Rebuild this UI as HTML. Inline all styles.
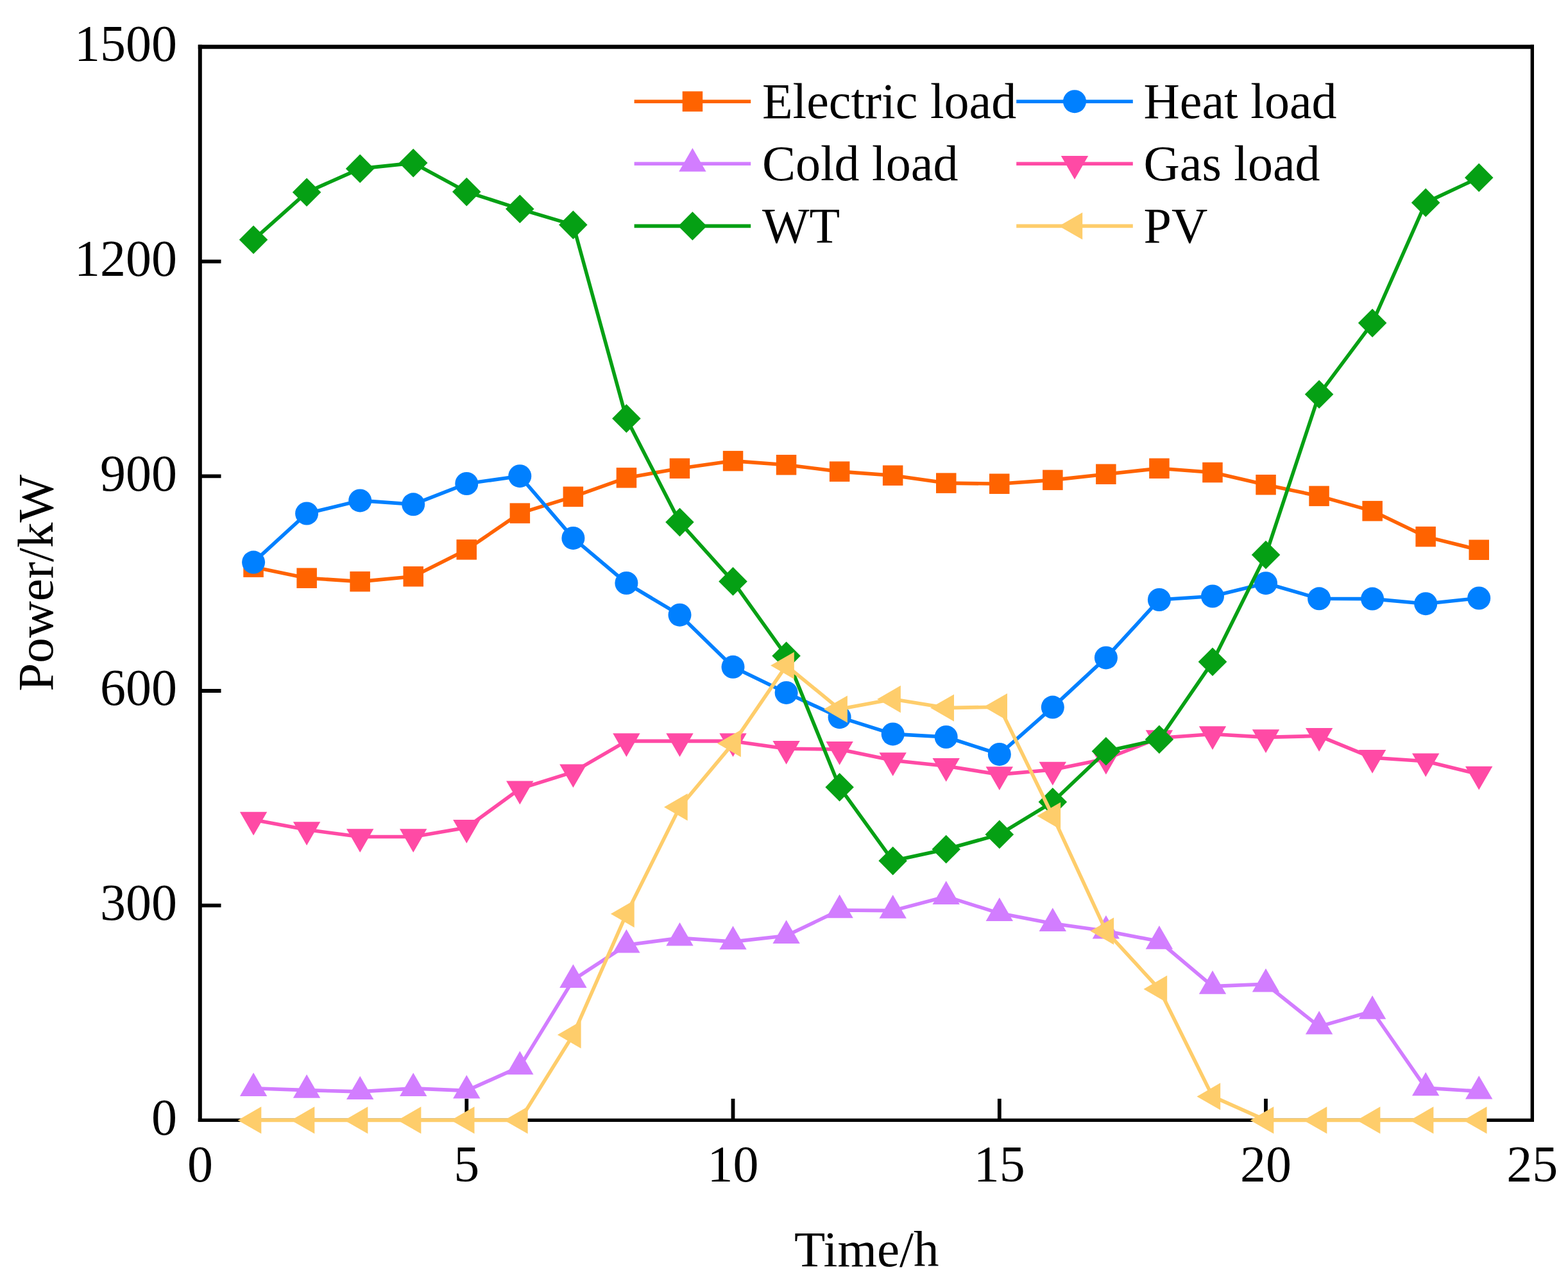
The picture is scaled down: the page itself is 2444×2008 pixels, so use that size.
<!DOCTYPE html>
<html><head><meta charset="utf-8"><title>Power profile</title>
<style>html,body{margin:0;padding:0;background:#fff;}svg{display:block;}</style>
</head><body><svg width="2444" height="2008" viewBox="0 0 2444 2008"><rect width="2444" height="2008" fill="#fff"/><path d="M308.8 69.8H2391 V76.2 H308.8Z" fill="#000"/><path d="M308.8 69.8H314.8 V1749.1000000000001 H308.8Z" fill="#000"/><path d="M308.8 1743.7H2391 V1749.1000000000001 H308.8Z" fill="#000"/><path d="M2385.6 69.8H2391 V1749.1000000000001 H2385.6Z" fill="#000"/><line x1="727.3" y1="1746.4" x2="727.3" y2="1712.9" stroke="#000" stroke-width="5.8"/><line x1="1142.5" y1="1746.4" x2="1142.5" y2="1712.9" stroke="#000" stroke-width="5.8"/><line x1="1557.8" y1="1746.4" x2="1557.8" y2="1712.9" stroke="#000" stroke-width="5.8"/><line x1="1973.0" y1="1746.4" x2="1973.0" y2="1712.9" stroke="#000" stroke-width="5.8"/><line x1="312.0" y1="1411.7" x2="344.5" y2="1411.7" stroke="#000" stroke-width="5.8"/><line x1="312.0" y1="1077.0" x2="344.5" y2="1077.0" stroke="#000" stroke-width="5.8"/><line x1="312.0" y1="742.4" x2="344.5" y2="742.4" stroke="#000" stroke-width="5.8"/><line x1="312.0" y1="407.7" x2="344.5" y2="407.7" stroke="#000" stroke-width="5.8"/><g font-family="'Liberation Serif', 'Times New Roman', serif" font-size="80" fill="#000"><text x="276" y="1768.6" text-anchor="end">0</text><text x="276" y="1433.9" text-anchor="end">300</text><text x="276" y="1099.2" text-anchor="end">600</text><text x="276" y="764.6" text-anchor="end">900</text><text x="276" y="429.9" text-anchor="end">1200</text><text x="276" y="95.2" text-anchor="end">1500</text><text x="312.0" y="1842" text-anchor="middle">0</text><text x="727.3" y="1842" text-anchor="middle">5</text><text x="1142.5" y="1842" text-anchor="middle">10</text><text x="1557.8" y="1842" text-anchor="middle">15</text><text x="1973.0" y="1842" text-anchor="middle">20</text><text x="2388.3" y="1842" text-anchor="middle">25</text></g><text font-family="'Liberation Serif', 'Times New Roman', serif" font-size="79" x="1350.7" y="1973.8" text-anchor="middle">Time/h</text><text font-family="'Liberation Serif', 'Times New Roman', serif" font-size="79" transform="translate(82.3 908.8) rotate(-90)" text-anchor="middle">Power/kW</text><polyline points="395.1,884.1 478.1,901.2 561.2,906.6 644.2,898.8 727.3,856.9 810.3,800.1 893.4,774.4 976.4,744.9 1059.5,730.3 1142.5,718.6 1225.6,724.7 1308.6,735.1 1391.7,741.3 1474.7,753.1 1557.8,754.3 1640.8,748.4 1723.9,739.3 1806.9,730.2 1890.0,736.5 1973.0,755.8 2056.1,773.4 2139.1,796.6 2222.2,836.6 2305.2,857.3" fill="none" stroke="#FF6300" stroke-width="5.6" stroke-linejoin="round" stroke-linecap="butt"/><rect x="379.3" y="868.4" width="31.5" height="31.5" fill="#FF6300"/><rect x="462.4" y="885.5" width="31.5" height="31.5" fill="#FF6300"/><rect x="545.4" y="890.9" width="31.5" height="31.5" fill="#FF6300"/><rect x="628.5" y="883.0" width="31.5" height="31.5" fill="#FF6300"/><rect x="711.5" y="841.1" width="31.5" height="31.5" fill="#FF6300"/><rect x="794.6" y="784.4" width="31.5" height="31.5" fill="#FF6300"/><rect x="877.6" y="758.6" width="31.5" height="31.5" fill="#FF6300"/><rect x="960.7" y="729.1" width="31.5" height="31.5" fill="#FF6300"/><rect x="1043.7" y="714.5" width="31.5" height="31.5" fill="#FF6300"/><rect x="1126.8" y="702.9" width="31.5" height="31.5" fill="#FF6300"/><rect x="1209.8" y="709.0" width="31.5" height="31.5" fill="#FF6300"/><rect x="1292.9" y="719.4" width="31.5" height="31.5" fill="#FF6300"/><rect x="1375.9" y="725.5" width="31.5" height="31.5" fill="#FF6300"/><rect x="1459.0" y="737.4" width="31.5" height="31.5" fill="#FF6300"/><rect x="1542.0" y="738.5" width="31.5" height="31.5" fill="#FF6300"/><rect x="1625.1" y="732.6" width="31.5" height="31.5" fill="#FF6300"/><rect x="1708.1" y="723.5" width="31.5" height="31.5" fill="#FF6300"/><rect x="1791.2" y="714.5" width="31.5" height="31.5" fill="#FF6300"/><rect x="1874.2" y="720.8" width="31.5" height="31.5" fill="#FF6300"/><rect x="1957.3" y="740.0" width="31.5" height="31.5" fill="#FF6300"/><rect x="2040.3" y="757.6" width="31.5" height="31.5" fill="#FF6300"/><rect x="2123.4" y="780.9" width="31.5" height="31.5" fill="#FF6300"/><rect x="2206.4" y="820.9" width="31.5" height="31.5" fill="#FF6300"/><rect x="2289.5" y="841.5" width="31.5" height="31.5" fill="#FF6300"/><polyline points="395.1,876.6 478.1,800.5 561.2,780.4 644.2,786.3 727.3,754.0 810.3,742.2 893.4,838.9 976.4,909.0 1059.5,958.7 1142.5,1039.8 1225.6,1079.9 1308.6,1118.2 1391.7,1144.4 1474.7,1149.0 1557.8,1175.9 1640.8,1102.6 1723.9,1025.4 1806.9,935.0 1890.0,929.5 1973.0,909.2 2056.1,933.3 2139.1,933.6 2222.2,941.2 2305.2,932.5" fill="none" stroke="#0080FF" stroke-width="5.6" stroke-linejoin="round" stroke-linecap="butt"/><circle cx="395.1" cy="876.6" r="18.0" fill="#0080FF"/><circle cx="478.1" cy="800.5" r="18.0" fill="#0080FF"/><circle cx="561.2" cy="780.4" r="18.0" fill="#0080FF"/><circle cx="644.2" cy="786.3" r="18.0" fill="#0080FF"/><circle cx="727.3" cy="754.0" r="18.0" fill="#0080FF"/><circle cx="810.3" cy="742.2" r="18.0" fill="#0080FF"/><circle cx="893.4" cy="838.9" r="18.0" fill="#0080FF"/><circle cx="976.4" cy="909.0" r="18.0" fill="#0080FF"/><circle cx="1059.5" cy="958.7" r="18.0" fill="#0080FF"/><circle cx="1142.5" cy="1039.8" r="18.0" fill="#0080FF"/><circle cx="1225.6" cy="1079.9" r="18.0" fill="#0080FF"/><circle cx="1308.6" cy="1118.2" r="18.0" fill="#0080FF"/><circle cx="1391.7" cy="1144.4" r="18.0" fill="#0080FF"/><circle cx="1474.7" cy="1149.0" r="18.0" fill="#0080FF"/><circle cx="1557.8" cy="1175.9" r="18.0" fill="#0080FF"/><circle cx="1640.8" cy="1102.6" r="18.0" fill="#0080FF"/><circle cx="1723.9" cy="1025.4" r="18.0" fill="#0080FF"/><circle cx="1806.9" cy="935.0" r="18.0" fill="#0080FF"/><circle cx="1890.0" cy="929.5" r="18.0" fill="#0080FF"/><circle cx="1973.0" cy="909.2" r="18.0" fill="#0080FF"/><circle cx="2056.1" cy="933.3" r="18.0" fill="#0080FF"/><circle cx="2139.1" cy="933.6" r="18.0" fill="#0080FF"/><circle cx="2222.2" cy="941.2" r="18.0" fill="#0080FF"/><circle cx="2305.2" cy="932.5" r="18.0" fill="#0080FF"/><polyline points="395.1,1696.8 478.1,1699.6 561.2,1701.9 644.2,1696.9 727.3,1700.4 810.3,1663.1 893.4,1527.7 976.4,1473.3 1059.5,1462.4 1142.5,1468.1 1225.6,1458.8 1308.6,1419.0 1391.7,1419.6 1474.7,1397.7 1557.8,1423.8 1640.8,1439.7 1723.9,1451.4 1806.9,1467.5 1890.0,1537.6 1973.0,1534.3 2056.1,1600.4 2139.1,1576.5 2222.2,1696.1 2305.2,1701.4" fill="none" stroke="#D27DFF" stroke-width="5.6" stroke-linejoin="round" stroke-linecap="butt"/><path d="M395.1 1672.3L416.3 1709.0L373.9 1709.0Z" fill="#D27DFF"/><path d="M478.1 1675.1L499.3 1711.8L456.9 1711.8Z" fill="#D27DFF"/><path d="M561.2 1677.4L582.4 1714.1L540.0 1714.1Z" fill="#D27DFF"/><path d="M644.2 1672.4L665.4 1709.1L623.0 1709.1Z" fill="#D27DFF"/><path d="M727.3 1675.9L748.5 1712.6L706.1 1712.6Z" fill="#D27DFF"/><path d="M810.3 1638.6L831.5 1675.3L789.1 1675.3Z" fill="#D27DFF"/><path d="M893.4 1503.2L914.6 1539.9L872.2 1539.9Z" fill="#D27DFF"/><path d="M976.4 1448.8L997.6 1485.5L955.2 1485.5Z" fill="#D27DFF"/><path d="M1059.5 1437.9L1080.7 1474.6L1038.3 1474.6Z" fill="#D27DFF"/><path d="M1142.5 1443.6L1163.7 1480.3L1121.3 1480.3Z" fill="#D27DFF"/><path d="M1225.6 1434.3L1246.8 1471.0L1204.4 1471.0Z" fill="#D27DFF"/><path d="M1308.6 1394.5L1329.8 1431.2L1287.4 1431.2Z" fill="#D27DFF"/><path d="M1391.7 1395.1L1412.9 1431.8L1370.5 1431.8Z" fill="#D27DFF"/><path d="M1474.7 1373.2L1495.9 1409.9L1453.5 1409.9Z" fill="#D27DFF"/><path d="M1557.8 1399.3L1579.0 1436.0L1536.6 1436.0Z" fill="#D27DFF"/><path d="M1640.8 1415.2L1662.0 1451.9L1619.6 1451.9Z" fill="#D27DFF"/><path d="M1723.9 1426.9L1745.1 1463.6L1702.7 1463.6Z" fill="#D27DFF"/><path d="M1806.9 1443.0L1828.1 1479.7L1785.7 1479.7Z" fill="#D27DFF"/><path d="M1890.0 1513.1L1911.2 1549.8L1868.8 1549.8Z" fill="#D27DFF"/><path d="M1973.0 1509.8L1994.2 1546.5L1951.8 1546.5Z" fill="#D27DFF"/><path d="M2056.1 1575.9L2077.3 1612.6L2034.9 1612.6Z" fill="#D27DFF"/><path d="M2139.1 1552.0L2160.3 1588.7L2117.9 1588.7Z" fill="#D27DFF"/><path d="M2222.2 1671.6L2243.4 1708.3L2201.0 1708.3Z" fill="#D27DFF"/><path d="M2305.2 1676.9L2326.4 1713.6L2284.0 1713.6Z" fill="#D27DFF"/><polyline points="395.1,1278.0 478.1,1293.5 561.2,1304.5 644.2,1304.5 727.3,1290.3 810.3,1229.7 893.4,1203.6 976.4,1155.4 1059.5,1155.4 1142.5,1155.4 1225.6,1167.2 1308.6,1168.2 1391.7,1185.5 1474.7,1194.3 1557.8,1207.4 1640.8,1200.0 1723.9,1183.0 1806.9,1150.5 1890.0,1144.5 1973.0,1149.4 2056.1,1147.3 2139.1,1181.3 2222.2,1186.7 2305.2,1207.0" fill="none" stroke="#FF4AA5" stroke-width="5.6" stroke-linejoin="round" stroke-linecap="butt"/><path d="M395.1 1302.5L416.3 1265.8L373.9 1265.8Z" fill="#FF4AA5"/><path d="M478.1 1318.0L499.3 1281.3L456.9 1281.3Z" fill="#FF4AA5"/><path d="M561.2 1329.0L582.4 1292.3L540.0 1292.3Z" fill="#FF4AA5"/><path d="M644.2 1329.0L665.4 1292.3L623.0 1292.3Z" fill="#FF4AA5"/><path d="M727.3 1314.8L748.5 1278.1L706.1 1278.1Z" fill="#FF4AA5"/><path d="M810.3 1254.2L831.5 1217.5L789.1 1217.5Z" fill="#FF4AA5"/><path d="M893.4 1228.1L914.6 1191.4L872.2 1191.4Z" fill="#FF4AA5"/><path d="M976.4 1179.9L997.6 1143.2L955.2 1143.2Z" fill="#FF4AA5"/><path d="M1059.5 1179.9L1080.7 1143.2L1038.3 1143.2Z" fill="#FF4AA5"/><path d="M1142.5 1179.9L1163.7 1143.2L1121.3 1143.2Z" fill="#FF4AA5"/><path d="M1225.6 1191.7L1246.8 1155.0L1204.4 1155.0Z" fill="#FF4AA5"/><path d="M1308.6 1192.7L1329.8 1156.0L1287.4 1156.0Z" fill="#FF4AA5"/><path d="M1391.7 1210.0L1412.9 1173.3L1370.5 1173.3Z" fill="#FF4AA5"/><path d="M1474.7 1218.8L1495.9 1182.1L1453.5 1182.1Z" fill="#FF4AA5"/><path d="M1557.8 1231.9L1579.0 1195.2L1536.6 1195.2Z" fill="#FF4AA5"/><path d="M1640.8 1224.5L1662.0 1187.8L1619.6 1187.8Z" fill="#FF4AA5"/><path d="M1723.9 1207.5L1745.1 1170.8L1702.7 1170.8Z" fill="#FF4AA5"/><path d="M1806.9 1175.0L1828.1 1138.3L1785.7 1138.3Z" fill="#FF4AA5"/><path d="M1890.0 1169.0L1911.2 1132.3L1868.8 1132.3Z" fill="#FF4AA5"/><path d="M1973.0 1173.9L1994.2 1137.2L1951.8 1137.2Z" fill="#FF4AA5"/><path d="M2056.1 1171.8L2077.3 1135.1L2034.9 1135.1Z" fill="#FF4AA5"/><path d="M2139.1 1205.8L2160.3 1169.1L2117.9 1169.1Z" fill="#FF4AA5"/><path d="M2222.2 1211.2L2243.4 1174.5L2201.0 1174.5Z" fill="#FF4AA5"/><path d="M2305.2 1231.5L2326.4 1194.8L2284.0 1194.8Z" fill="#FF4AA5"/><polyline points="395.1,373.8 478.1,299.8 561.2,262.9 644.2,254.1 727.3,299.1 810.3,325.8 893.4,350.6 976.4,652.4 1059.5,814.1 1142.5,906.4 1225.6,1022.6 1308.6,1227.2 1391.7,1342.1 1474.7,1324.0 1557.8,1300.9 1640.8,1250.3 1723.9,1171.2 1806.9,1152.8 1890.0,1031.8 1973.0,865.0 2056.1,614.8 2139.1,503.6 2222.2,315.9 2305.2,276.9" fill="none" stroke="#05A014" stroke-width="5.6" stroke-linejoin="round" stroke-linecap="butt"/><path d="M395.1 351.5L417.3 373.8L395.1 396.1L372.8 373.8Z" fill="#05A014"/><path d="M478.1 277.5L500.4 299.8L478.1 322.1L455.8 299.8Z" fill="#05A014"/><path d="M561.2 240.6L583.4 262.9L561.2 285.2L538.9 262.9Z" fill="#05A014"/><path d="M644.2 231.8L666.5 254.1L644.2 276.4L621.9 254.1Z" fill="#05A014"/><path d="M727.3 276.8L749.5 299.1L727.3 321.4L705.0 299.1Z" fill="#05A014"/><path d="M810.3 303.5L832.6 325.8L810.3 348.1L788.0 325.8Z" fill="#05A014"/><path d="M893.4 328.3L915.6 350.6L893.4 372.9L871.1 350.6Z" fill="#05A014"/><path d="M976.4 630.1L998.7 652.4L976.4 674.7L954.1 652.4Z" fill="#05A014"/><path d="M1059.5 791.8L1081.7 814.1L1059.5 836.4L1037.2 814.1Z" fill="#05A014"/><path d="M1142.5 884.1L1164.8 906.4L1142.5 928.7L1120.2 906.4Z" fill="#05A014"/><path d="M1225.6 1000.3L1247.8 1022.6L1225.6 1044.9L1203.3 1022.6Z" fill="#05A014"/><path d="M1308.6 1204.9L1330.9 1227.2L1308.6 1249.5L1286.4 1227.2Z" fill="#05A014"/><path d="M1391.7 1319.8L1413.9 1342.1L1391.7 1364.4L1369.4 1342.1Z" fill="#05A014"/><path d="M1474.7 1301.7L1497.0 1324.0L1474.7 1346.3L1452.5 1324.0Z" fill="#05A014"/><path d="M1557.8 1278.6L1580.1 1300.9L1557.8 1323.2L1535.5 1300.9Z" fill="#05A014"/><path d="M1640.8 1228.0L1663.1 1250.3L1640.8 1272.6L1618.6 1250.3Z" fill="#05A014"/><path d="M1723.9 1148.9L1746.2 1171.2L1723.9 1193.5L1701.6 1171.2Z" fill="#05A014"/><path d="M1806.9 1130.5L1829.2 1152.8L1806.9 1175.1L1784.7 1152.8Z" fill="#05A014"/><path d="M1890.0 1009.5L1912.3 1031.8L1890.0 1054.1L1867.7 1031.8Z" fill="#05A014"/><path d="M1973.0 842.7L1995.3 865.0L1973.0 887.3L1950.8 865.0Z" fill="#05A014"/><path d="M2056.1 592.5L2078.4 614.8L2056.1 637.1L2033.8 614.8Z" fill="#05A014"/><path d="M2139.1 481.3L2161.4 503.6L2139.1 525.9L2116.9 503.6Z" fill="#05A014"/><path d="M2222.2 293.6L2244.5 315.9L2222.2 338.2L2199.9 315.9Z" fill="#05A014"/><path d="M2305.2 254.6L2327.5 276.9L2305.2 299.2L2283.0 276.9Z" fill="#05A014"/><polyline points="395.1,1746.4 478.1,1746.4 561.2,1746.4 644.2,1746.4 727.3,1746.4 810.3,1746.4 893.4,1613.2 976.4,1424.8 1059.5,1258.3 1142.5,1159.1 1225.6,1037.6 1308.6,1105.6 1391.7,1090.0 1474.7,1103.6 1557.8,1102.1 1640.8,1272.0 1723.9,1451.6 1806.9,1542.0 1890.0,1709.4 1973.0,1746.4 2056.1,1746.4 2139.1,1746.4 2222.2,1746.4 2305.2,1746.4" fill="none" stroke="#FECD6B" stroke-width="5.6" stroke-linejoin="round" stroke-linecap="butt"/><path d="M370.6 1746.4L407.3 1725.2L407.3 1767.6Z" fill="#FECD6B"/><path d="M453.6 1746.4L490.3 1725.2L490.3 1767.6Z" fill="#FECD6B"/><path d="M536.7 1746.4L573.4 1725.2L573.4 1767.6Z" fill="#FECD6B"/><path d="M619.7 1746.4L656.4 1725.2L656.4 1767.6Z" fill="#FECD6B"/><path d="M702.8 1746.4L739.5 1725.2L739.5 1767.6Z" fill="#FECD6B"/><path d="M785.8 1746.4L822.6 1725.2L822.6 1767.6Z" fill="#FECD6B"/><path d="M868.9 1613.2L905.6 1592.0L905.6 1634.4Z" fill="#FECD6B"/><path d="M951.9 1424.8L988.7 1403.6L988.7 1446.0Z" fill="#FECD6B"/><path d="M1035.0 1258.3L1071.7 1237.1L1071.7 1279.5Z" fill="#FECD6B"/><path d="M1118.0 1159.1L1154.8 1137.9L1154.8 1180.3Z" fill="#FECD6B"/><path d="M1201.1 1037.6L1237.8 1016.4L1237.8 1058.8Z" fill="#FECD6B"/><path d="M1284.1 1105.6L1320.9 1084.4L1320.9 1126.8Z" fill="#FECD6B"/><path d="M1367.2 1090.0L1403.9 1068.8L1403.9 1111.2Z" fill="#FECD6B"/><path d="M1450.2 1103.6L1487.0 1082.4L1487.0 1124.8Z" fill="#FECD6B"/><path d="M1533.3 1102.1L1570.0 1080.9L1570.0 1123.3Z" fill="#FECD6B"/><path d="M1616.4 1272.0L1653.1 1250.8L1653.1 1293.2Z" fill="#FECD6B"/><path d="M1699.4 1451.6L1736.1 1430.4L1736.1 1472.8Z" fill="#FECD6B"/><path d="M1782.5 1542.0L1819.2 1520.8L1819.2 1563.2Z" fill="#FECD6B"/><path d="M1865.5 1709.4L1902.2 1688.2L1902.2 1730.6Z" fill="#FECD6B"/><path d="M1948.6 1746.4L1985.3 1725.2L1985.3 1767.6Z" fill="#FECD6B"/><path d="M2031.6 1746.4L2068.3 1725.2L2068.3 1767.6Z" fill="#FECD6B"/><path d="M2114.7 1746.4L2151.4 1725.2L2151.4 1767.6Z" fill="#FECD6B"/><path d="M2197.7 1746.4L2234.4 1725.2L2234.4 1767.6Z" fill="#FECD6B"/><path d="M2280.8 1746.4L2317.5 1725.2L2317.5 1767.6Z" fill="#FECD6B"/><line x1="988.6" y1="158.2" x2="1170.2" y2="158.2" stroke="#FF6300" stroke-width="5.6" stroke-linecap="butt"/><rect x="1063.7" y="142.4" width="31.5" height="31.5" fill="#FF6300"/><text font-family="'Liberation Serif', 'Times New Roman', serif" font-size="78" x="1187.9" y="184.0">Electric load</text><line x1="1584.2" y1="158.2" x2="1765.8" y2="158.2" stroke="#0080FF" stroke-width="5.6" stroke-linecap="butt"/><circle cx="1675.0" cy="158.2" r="18.0" fill="#0080FF"/><text font-family="'Liberation Serif', 'Times New Roman', serif" font-size="78" x="1782.5" y="184.0">Heat load</text><line x1="988.6" y1="255.3" x2="1170.2" y2="255.3" stroke="#D27DFF" stroke-width="5.6" stroke-linecap="butt"/><path d="M1079.4 230.8L1100.6 267.5L1058.2 267.5Z" fill="#D27DFF"/><text font-family="'Liberation Serif', 'Times New Roman', serif" font-size="78" x="1187.9" y="281.1">Cold load</text><line x1="1584.2" y1="255.3" x2="1765.8" y2="255.3" stroke="#FF4AA5" stroke-width="5.6" stroke-linecap="butt"/><path d="M1675.0 279.8L1696.2 243.1L1653.8 243.1Z" fill="#FF4AA5"/><text font-family="'Liberation Serif', 'Times New Roman', serif" font-size="78" x="1782.5" y="281.1">Gas load</text><line x1="988.6" y1="352.4" x2="1170.2" y2="352.4" stroke="#05A014" stroke-width="5.6" stroke-linecap="butt"/><path d="M1079.4 330.1L1101.7 352.4L1079.4 374.7L1057.1 352.4Z" fill="#05A014"/><text font-family="'Liberation Serif', 'Times New Roman', serif" font-size="78" x="1187.9" y="378.2">WT</text><line x1="1584.2" y1="352.4" x2="1765.8" y2="352.4" stroke="#FECD6B" stroke-width="5.6" stroke-linecap="butt"/><path d="M1650.5 352.4L1687.2 331.2L1687.2 373.6Z" fill="#FECD6B"/><text font-family="'Liberation Serif', 'Times New Roman', serif" font-size="78" x="1782.5" y="378.2">PV</text></svg></body></html>
